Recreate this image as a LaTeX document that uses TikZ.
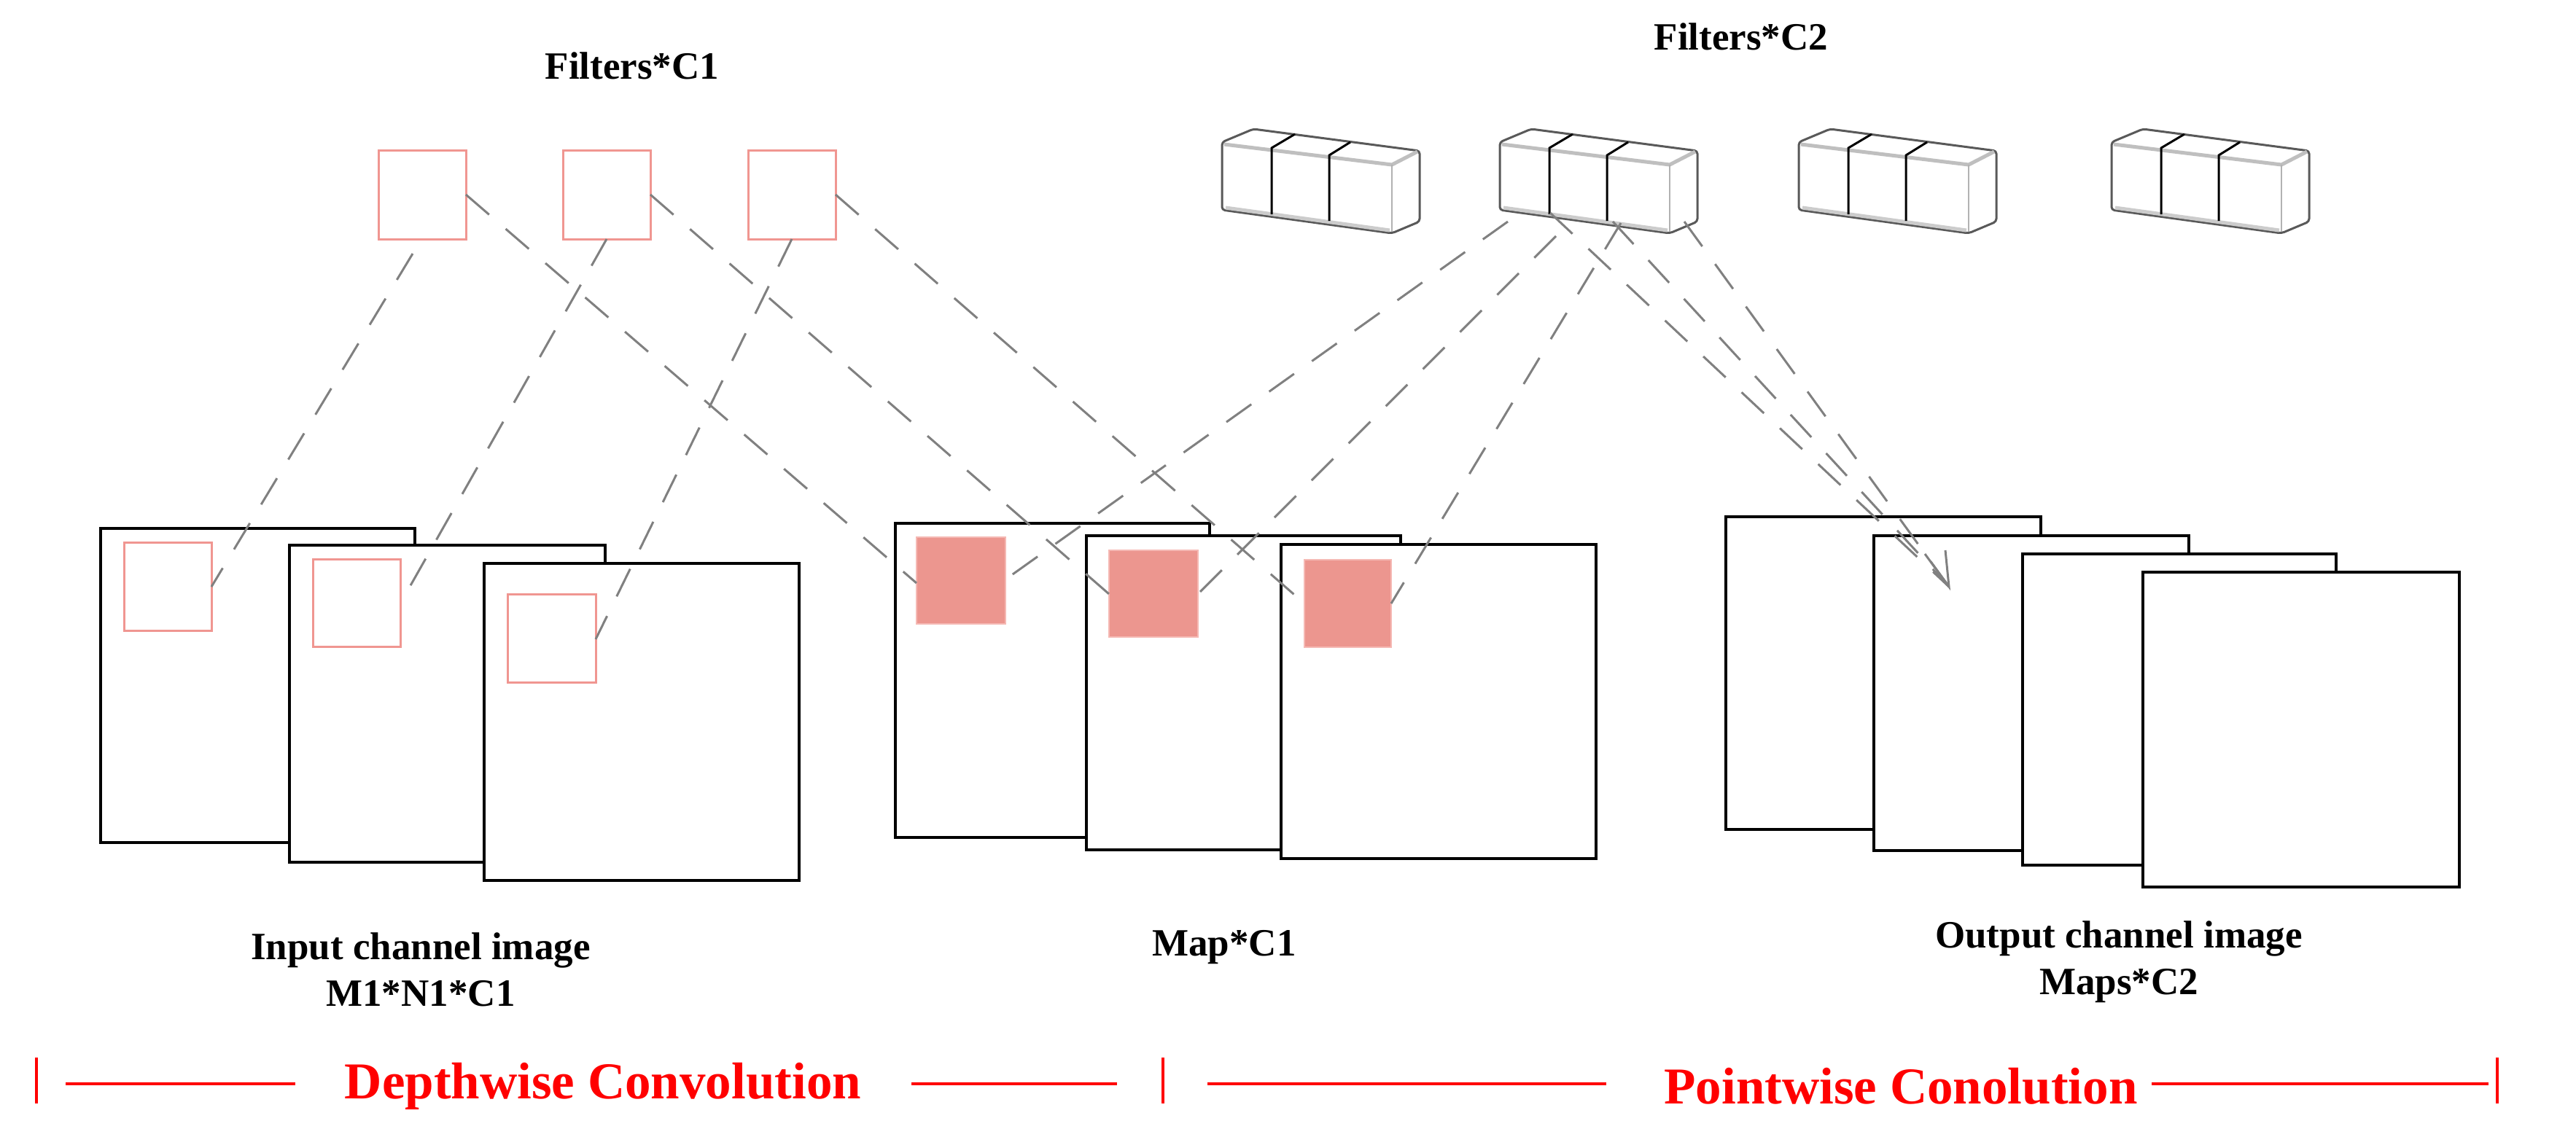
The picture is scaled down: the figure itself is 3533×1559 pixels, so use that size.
\documentclass[tikz,border=0pt]{standalone}
\usepackage{fontspec}
\setmainfont{Liberation Serif}
\begin{document}
\begin{tikzpicture}[x=1pt,y=-1pt,
  frame/.style={draw=black,line width=3.5pt,fill=white},
  filt/.style={draw={rgb,255:red,240;green,150;blue,145},line width=3pt},
  pinkf/.style={fill={rgb,255:red,236;green,150;blue,143},draw={rgb,255:red,245;green,185;blue,180},line width=2pt},
  dl/.style={draw=gray,line width=3pt,dash pattern=on 42pt off 30pt},
  lbl/.style={font=\bfseries\fontsize{53}{64}\selectfont,align=center},
  red/.style={draw=red,line width=4pt},
  rlbl/.style={font=\bfseries\fontsize{71}{80}\selectfont,text=red}]
\useasboundingbox (0,0) rectangle (3533,1559);
% input frames
\draw[frame] (138,725) rectangle (569,1156);
\draw[filt] (170,744) rectangle (290,865);
\draw[frame] (397,748) rectangle (830,1183);
\draw[filt] (429,767) rectangle (549,887);
\draw[frame] (664,773) rectangle (1096,1208);
\draw[filt] (696,815) rectangle (817,936);
% map frames
\draw[frame] (1228,718) rectangle (1659,1149);
\draw[pinkf] (1257,737) rectangle (1379,856);
\draw[frame] (1490,735) rectangle (1921,1166);
\draw[pinkf] (1521,755) rectangle (1643,874);
\draw[frame] (1757,747) rectangle (2189,1178);
\draw[pinkf] (1789,768) rectangle (1908,888);
% output frames
\draw[frame] (2367,709) rectangle (2799,1138);
\draw[frame] (2570,735) rectangle (3002,1167);
\draw[frame] (2774,760) rectangle (3204,1187);
\draw[frame] (2939,785) rectangle (3373,1217);
% filters C1
\draw[filt] (519,206) rectangle (639,328);
\draw[filt] (772,206) rectangle (892,328);
\draw[filt] (1026,206) rectangle (1146,328);
\node[lbl] (f1) at (867,90) {Filters*C1};
\node[lbl] (f2) at (2388,50) {Filters*C2};
% cubes
\foreach \cx in {1676,2057,2467,2896}{
 \begin{scope}[shift={(\cx,0)}]
  \draw[gray!70!black,line width=3pt,fill=white,rounded corners=4pt]
    (0,195) -- (43,177) -- (271,207) -- (271,304) -- (233,320) -- (0,288) -- cycle;
  \draw[gray!50,line width=5pt] (3,198) -- (233,226) -- (268,208);
  \draw[gray!60,line width=2.5pt] (233,226) -- (233,318);
  \draw[gray!40,line width=5pt] (5,285) -- (230,316);
  \draw[black,line width=3pt] (68,294) -- (68,203) -- (100,184);
  \draw[black,line width=3pt] (147,303) -- (147,213) -- (176,195);
 \end{scope}}
% dashed connectors depthwise
\draw[dl] (639,267) -- (1257,800);
\draw[dl] (892,267) -- (1521,815);
\draw[dl] (1146,267) -- (1789,828);
\draw[dl] (566,348) -- (290,805);
\draw[dl] (832,328) -- (549,828);
\draw[dl] (1086,328) -- (817,877);
% pointwise
\draw[dl] (2068,304) -- (1379,795);
\draw[dl] (2134,324) -- (1643,815);
\draw[dl] (2223,306) -- (1908,828);
\draw[dl] (2126,292) -- (2673,805);
\draw[dl] (2212,304) -- (2673,805);
\draw[dl] (2310,304) -- (2673,805);
\draw[gray,line width=3pt] (2640,760) -- (2673,805) -- (2668,755);
% labels
\node[lbl] at (577,1330) {Input channel image\\M1*N1*C1};
\node[lbl] at (1679,1300) {Map*C1};
\node[lbl] at (2906,1320) {Output channel image\\Maps*C2};
% bottom bar
\draw[red] (50,1451) -- (50,1514);
\draw[red] (1595,1451) -- (1595,1514);
\draw[red] (3425,1451) -- (3425,1514);
\draw[red] (90,1487) -- (405,1487);
\draw[red] (1250,1487) -- (1532,1487);
\draw[red] (1656,1487) -- (2203,1487);
\draw[red] (2951,1487) -- (3413,1487);
\node[rlbl] at (827,1490) {Depthwise Convolution};
\node[rlbl] at (2607,1490) {Pointwise Conolution};
\end{tikzpicture}
\end{document}
